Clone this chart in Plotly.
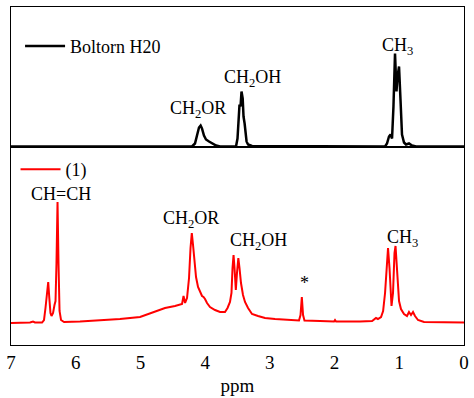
import plotly.graph_objects as go

# ---- Boltorn H20 spectrum (ppm, intensity a.u.) ----
h20_ppm = [7.00, 4.85, 4.203, 4.157, 4.126, 4.095, 4.07, 4.049, 4.018, 3.987, 3.94, 3.894, 3.83, 3.77,
           3.523, 3.50, 3.484, 3.469, 3.453, 3.438, 3.42, 3.407, 3.39, 3.376, 3.36, 3.337, 3.276,
           1.22, 1.19, 1.159, 1.135, 1.112, 1.09, 1.066, 1.043, 1.027, 1.004, 0.98, 0.958, 0.927,
           0.896, 0.85, 0.803, 0.741, 0.0]
h20_int = [0, 0, 0, 3, 10, 19, 21, 18, 11, 7, 5, 3, 1, 0,
           0, 8, 35, 42, 40, 55, 48, 30, 23, 16, 5, 2, 0.5,
           0, 3, 10, 12, 8, 40, 93, 55, 70, 80, 45, 12, 4,
           2, 3, 1, 0, 0]

# ---- Compound (1) spectrum ----
c1_ppm = [7.00, 6.706, 6.66, 6.63, 6.52, 6.49, 6.467, 6.45, 6.44, 6.425, 6.408, 6.39, 6.374, 6.35,
          6.328, 6.312, 6.297, 6.281, 6.266, 6.25, 6.227, 6.18, 5.934, 5.625, 5.316, 5.006, 4.806,
          4.62, 4.466, 4.357, 4.334, 4.31, 4.28, 4.249, 4.226, 4.206, 4.187, 4.164, 4.141, 4.11,
          4.079, 4.048, 4.025, 4.002, 3.971, 3.925, 3.847, 3.77, 3.693, 3.654, 3.616, 3.593, 3.577,
          3.561, 3.546, 3.526, 3.508, 3.487, 3.469, 3.446, 3.415, 3.384, 3.337, 3.276, 3.183, 3.075,
          2.92, 2.688, 2.55, 2.526, 2.506, 2.487, 2.465, 2.225, 2.008, 1.993, 1.977, 1.607, 1.42,
          1.36, 1.33, 1.282, 1.25, 1.22, 1.197, 1.174, 1.151, 1.12, 1.097, 1.074, 1.058, 1.035,
          1.004, 0.974, 0.927, 0.881, 0.85, 0.819, 0.788, 0.757, 0.711, 0.618, 0.0]
c1_int = [0, 0.5, 1.5, 0.5, 0.5, 3, 15, 27, 30, 41, 25, 10, 7, 10,
          18, 22, 60, 121, 60, 12, 3, 1, 1.5, 2.5, 4, 6, 11,
          15, 17, 19, 27, 20, 25, 45, 75, 90, 78, 62, 46, 36,
          31, 27, 26, 24, 20, 16, 13, 11, 11, 15, 21, 30, 55,
          68, 55, 33, 50, 65, 55, 40, 28, 21, 15, 9, 7, 5,
          4, 3, 2.5, 8, 26, 8, 2.5, 2, 1.5, 3, 1.5, 1.5, 2,
          5, 4, 6, 12, 30, 60, 75, 55, 17, 30, 70, 77, 55,
          22, 14, 9, 7, 11, 8, 11, 7, 3, 1, 0.5]

x_ticks = [7, 6, 5, 4, 3, 2, 1, 0]

SERIF = "Liberation Serif, Times New Roman, serif"

fig = go.Figure()
fig.add_trace(go.Scatter(x=h20_ppm, y=h20_int, mode="lines", name="Boltorn H20",
                         line=dict(color="black", width=2.5), xaxis="x2", yaxis="y2",
                         legend="legend"))
fig.add_trace(go.Scatter(x=c1_ppm, y=c1_int, mode="lines", name="(1)",
                         line=dict(color="#ff0000", width=2), xaxis="x", yaxis="y",
                         legend="legend2"))

split = 198 / 338

axis_line = dict(showline=True, linecolor="black", linewidth=1.3, mirror=True,
                 showgrid=False, zeroline=False, automargin=False)

fig.update_layout(
    width=474, height=398,
    margin=dict(l=11, r=10, t=7, b=53),
    paper_bgcolor="white", plot_bgcolor="white",
    font=dict(family=SERIF, size=18, color="black"),
    # labels + title (no tick marks so labels sit right under the marks of xaxis3)
    xaxis=dict(range=[7, 0], tickvals=x_ticks, ticks="",
               tickfont=dict(size=19, family=SERIF),
               title=dict(text="ppm", font=dict(size=19, family=SERIF), standoff=6),
               anchor="y", **axis_line),
    # tick marks only
    xaxis3=dict(range=[7, 0], matches="x", overlaying="x", anchor="y", side="bottom",
                tickvals=x_ticks, showticklabels=False, ticks="outside", ticklen=8,
                tickwidth=1.3, tickcolor="black",
                minor=dict(dtick=0.5, ticks="outside", ticklen=5, tickwidth=1.3, tickcolor="black"),
                showline=False, showgrid=False, zeroline=False, automargin=False),
    xaxis2=dict(range=[7, 0], matches="x", showticklabels=False, ticks="",
                anchor="y2", **axis_line),
    yaxis=dict(domain=[0, split], range=[-22, 176], showticklabels=False, ticks="",
               **axis_line),
    yaxis2=dict(domain=[split, 1], range=[-0.5, 139.5], showticklabels=False, ticks="",
                **axis_line),
    legend=dict(x=0.02, y=0.884, xanchor="left", yanchor="middle", bgcolor="rgba(0,0,0,0)",
                font=dict(size=18, family=SERIF), itemwidth=40),
    legend2=dict(x=0.01, y=0.519, xanchor="left", yanchor="middle", bgcolor="rgba(0,0,0,0)",
                 font=dict(size=18, family=SERIF), itemwidth=40),
    showlegend=True,
)

labels_top = [
    ("CH<sub>2</sub>OR", 4.11, 37.5),
    ("CH<sub>2</sub>OH", 3.276, 68.5),
    ("CH<sub>3</sub>", 1.02, 100.5),
]
labels_bot = [
    ("CH=CH", 6.227, 129),
    ("CH<sub>2</sub>OR", 4.218, 104),
    ("CH<sub>2</sub>OH", 3.183, 82),
    ("*", 2.472, 40),
    ("CH<sub>3</sub>", 0.958, 85),
]
for t, xv, yv in labels_top:
    fig.add_annotation(text=t, x=xv, y=yv, xref="x2", yref="y2", showarrow=False,
                       font=dict(size=18, family=SERIF), xanchor="center", yanchor="middle")
for t, xv, yv in labels_bot:
    fig.add_annotation(text=t, x=xv, y=yv, xref="x", yref="y", showarrow=False,
                       font=dict(size=18 if t != "*" else 18, family=SERIF),
                       xanchor="center", yanchor="middle")

fig.write_html("out.html", config={"displayModeBar": False},
               post_script="document.body.style.margin='0';document.body.style.overflow='hidden';")
